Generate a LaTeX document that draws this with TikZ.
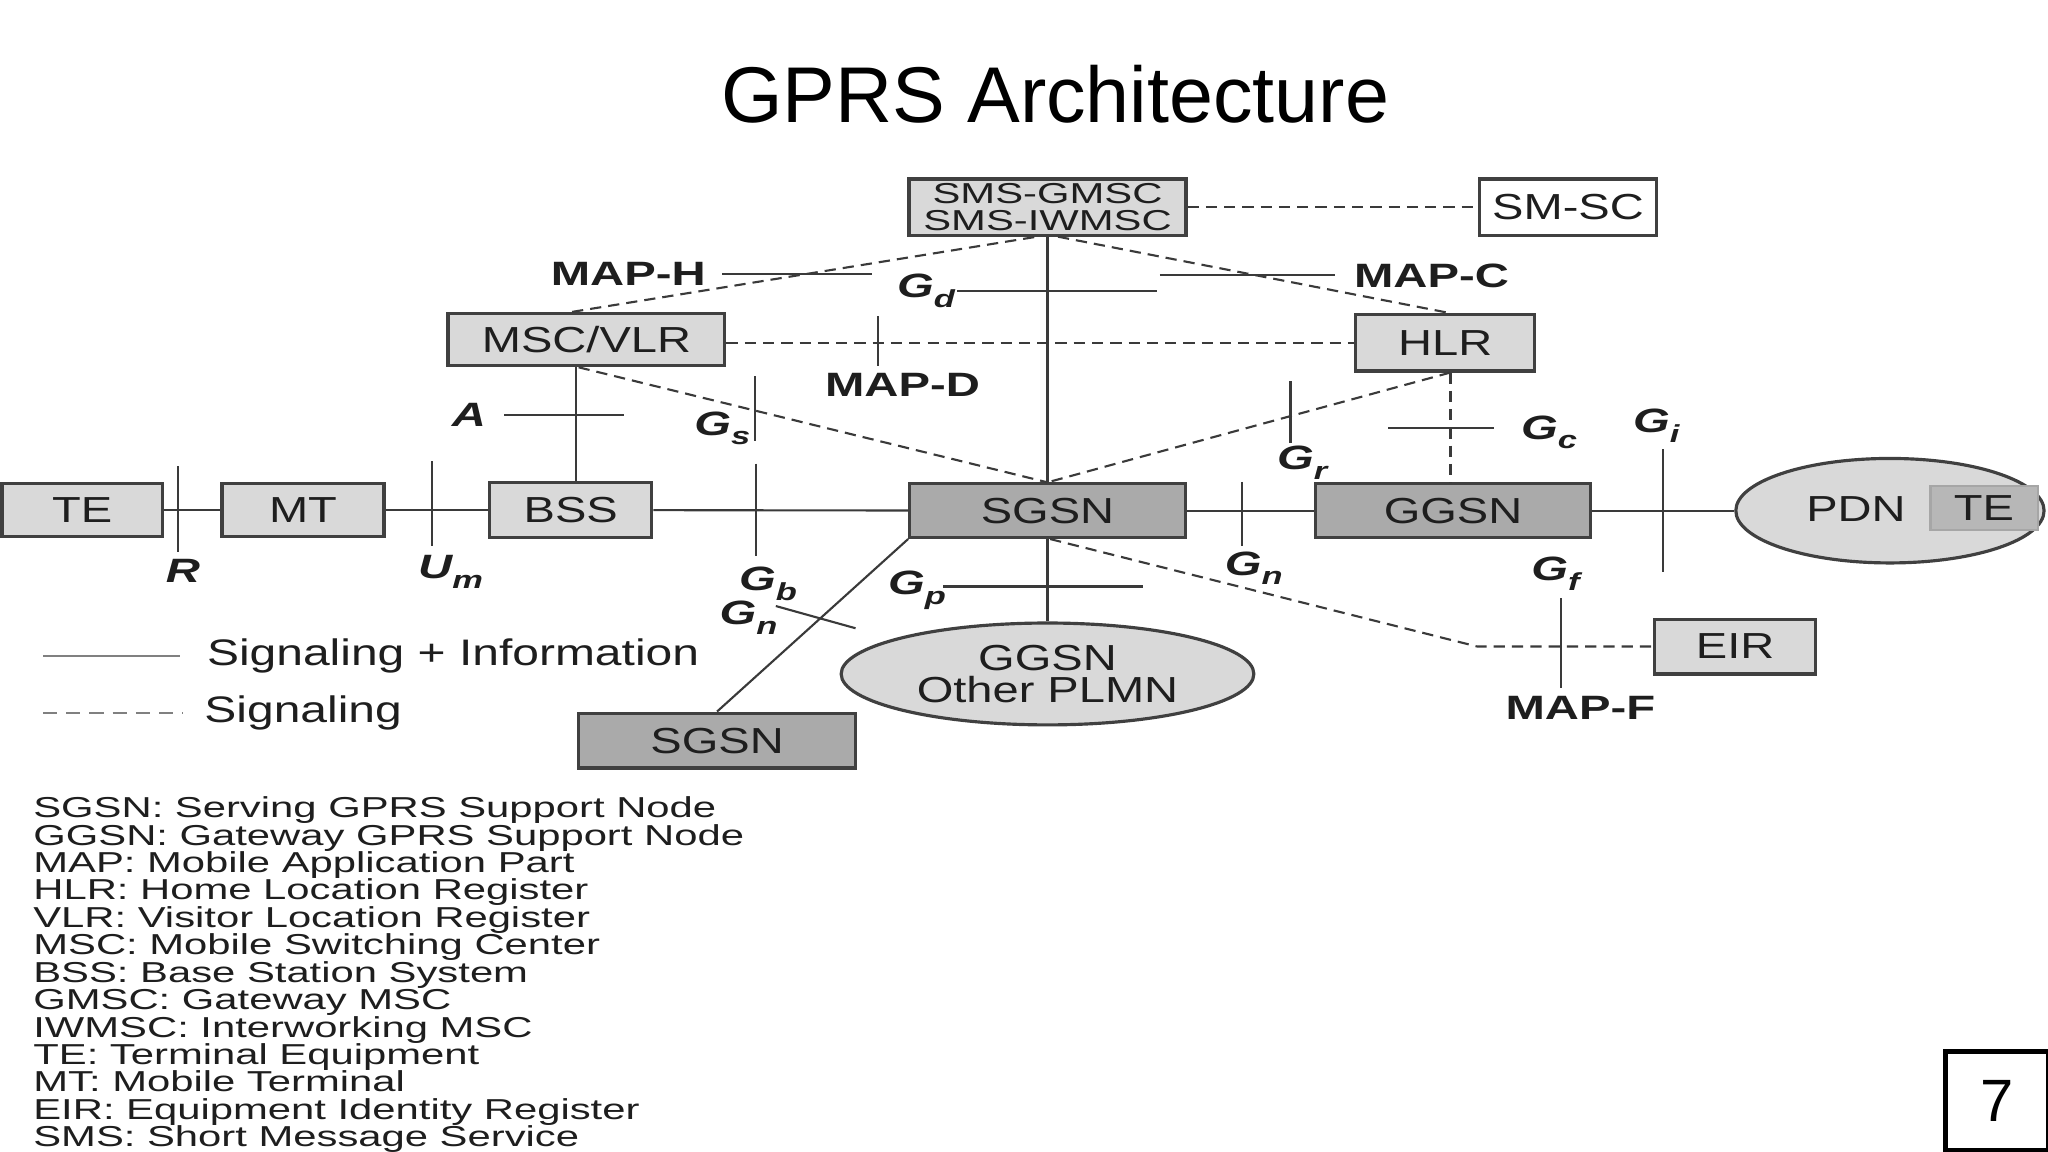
\documentclass[tikz,border=0pt]{standalone}
\usepackage{fontspec}
\setmainfont{Liberation Sans}
\newfontfamily\diagf[FakeStretch=1.3]{Liberation Sans}
\newfontfamily\widef[FakeStretch=1.45]{Liberation Sans}
\newfontfamily\labf[FakeStretch=1.4]{Liberation Sans}
\usetikzlibrary{shapes.geometric,calc}
\definecolor{lg}{HTML}{D9D9D9}
\definecolor{dg}{HTML}{AAAAAA}
\definecolor{bord}{HTML}{404040}
\definecolor{lnc}{HTML}{3A3A3A}
\definecolor{txt}{HTML}{1E1E1E}
\newcommand{\WithSub}[2]{#1\raisebox{-2.8pt}{\fontsize{7}{7}\selectfont #2}}
\tikzset{
 sz/.style 2 args={minimum width=#1*0.013061cm, minimum height=#2*0.013061cm},
 bx/.style={draw=bord, line width=0.9pt, inner sep=0pt, text=txt, font=\diagf\fontsize{10.3}{11}\selectfont},
 lbox/.style={bx, fill=lg},
 dbox/.style={bx, fill=dg},
 wbox/.style={bx, fill=white},
 ell/.style={bx, ellipse, fill=lg},
 ln/.style={draw=lnc, line width=0.6pt},
 dsh/.style={ln, dash pattern=on 3.2pt off 2pt},
 lab/.style={text=txt, font=\labf\bfseries\itshape\fontsize{9.6}{10}\selectfont, inner sep=0pt},
 mlab/.style={text=txt, font=\labf\bfseries\fontsize{9.6}{10}\selectfont, inner sep=0pt},
 keyt/.style={text=txt, font=\widef\fontsize{8.2}{9}\selectfont, inner sep=0pt, anchor=base west},
 legt/.style={text=txt, font=\diagf\fontsize{10.5}{12}\selectfont, inner sep=0pt, anchor=west},
}
\begin{document}
\begin{tikzpicture}[x=0.013061cm, y=-0.013061cm]
\fill[white] (0,0) rectangle (1568,882);
\useasboundingbox (0,0) rectangle (1568,882);

% title
\node[font=\fontsize{22.5}{26}\selectfont, text=black] (title) at (808,72) {GPRS Architecture};

% boxes
\node[lbox, sz={123}{41}] (te1) at (63,390.5) {TE};
\node[lbox, sz={124}{41}] (mt) at (232,390.5) {MT};
\node[lbox, sz={124}{42}] (bss) at (437,390.5) {BSS};
\node[dbox, sz={211}{41}] (sgsn) at (802,391) {SGSN};
\node[dbox, sz={211}{41}] (ggsn) at (1112.5,391) {GGSN};
\node[ell, sz={236}{80}] (pdn) at (1447,391) {};
\node[text=txt, font=\diagf\fontsize{10.3}{11}\selectfont, inner sep=0pt] (pdnl) at (1421,390) {PDN};
\node[draw=gray!70, line width=0.6pt, fill=dg!85, inner sep=0pt, sz={82}{34}, text=txt, font=\diagf\fontsize{10.3}{11}\selectfont] (te2) at (1519,389) {TE};
\node[lbox, sz={212}{40}] (msc) at (449,260) {MSC/VLR};
\node[lbox, sz={137}{43}] (hlr) at (1106.5,262.5) {HLR};
\node[lbox, sz={212}{43}, align=center, font=\widef\fontsize{8.2}{7.9}\selectfont] (sms) at (802,158.5) {SMS-GMSC\\SMS-IWMSC};
\node[wbox, sz={135}{43}] (smsc) at (1200.5,158.5) {SM-SC};
\node[lbox, sz={123}{42}] (eir) at (1328.5,495) {EIR};
\node[ell, sz={316}{78}, align=center, font=\diagf\fontsize{10.3}{9.3}\selectfont] (plmn) at (802,516) {GGSN\\Other PLMN};
\node[dbox, sz={212}{42}] (sgsn2) at (549,567) {SGSN};

% solid connectors
\draw[ln] (te1) -- (mt);
\draw[ln] (mt) -- (bss);
\draw[ln] (bss) -- (sgsn);
\draw[ln] (sgsn) -- (ggsn);
\draw[ln] (ggsn) -- (pdn);
\draw[ln] ($(bss.north)+(4,0)$) -- ($(msc.south)+(-8,0)$);
\draw[ln] (sms.south) -- (sgsn.north);
\draw[ln] (sgsn.south) -- (plmn.north);
\draw[ln] (sgsn.south west) -- (sgsn2.north);

% dashed connectors
\draw[dsh] (sms.east) -- (smsc.west);
\draw[dsh] (msc.east |- hlr.west) -- (hlr.west);
\draw[dsh] ($(msc.north)+(-11,0)$) -- ($(sms.south)+(-8,0)$);
\draw[dsh] ($(sms.south)+(8,0)$) -- ($(hlr.north)+(4,0)$);
\draw[dsh] ($(msc.south)+(-6,0)$) -- (sgsn.north);
\draw[dsh] ($(hlr.south)+(4,0)$) -- (sgsn.north);
\draw[dsh] ($(hlr.south)+(4,0)$) -- ($(ggsn.north)+(-2,0)$);
\coordinate (eb) at (1131,495);
\draw[dsh] ($(sgsn.south)+(2,0)$) -- (eb) -- (eir.west);

% interface ticks
\draw[ln] (136,357) -- (136,423);
\draw[ln] (331,353) -- (331,418);
\draw[ln] (386,318) -- (478,318);
\draw[ln] (553,210) -- (668,210);
\draw[ln] (733,222.5) -- (886,222.5);
\draw[ln] (888,210.5) -- (1022,210.5);
\draw[ln] (672,242) -- (672,280);
\draw[ln] (578,288) -- (578,338);
\draw[ln] (988,292) -- (988,339);
\draw[ln] (1063,328) -- (1144,328);
\draw[ln] (1273,344) -- (1273,438);
\draw[ln] (951,369) -- (951,418);
\draw[ln] (579,355) -- (579,426);
\draw[ln] (722,449) -- (875,449);
\draw[ln] (594,464) -- (655,481);
\draw[ln] (1195,458) -- (1195,527);

% interface labels
\node[lab] (lR) at (140,437) {R};
\node[lab] (lUm) at (345,438) {\WithSub{U}{m}};
\node[lab] (lA) at (359,318) {A};
\node[mlab] (lMAPH) at (481,210) {MAP-H};
\node[lab] (lGd) at (709,223) {\WithSub{G}{d}};
\node[mlab] (lMAPC) at (1096,211) {MAP-C};
\node[mlab] (lMAPD) at (691,295) {MAP-D};
\node[lab] (lGs) at (553,328) {\WithSub{G}{s}};
\node[lab] (lGr) at (997,354) {\WithSub{G}{r}};
\node[lab] (lGc) at (1186,331) {\WithSub{G}{c}};
\node[lab] (lGi) at (1268,326) {\WithSub{G}{i}};
\node[lab] (lGn) at (960,435) {\WithSub{G}{n}};
\node[lab] (lGb) at (588,447) {\WithSub{G}{b}};
\node[lab] (lGp) at (702,452) {\WithSub{G}{p}};
\node[lab] (lGn2) at (573,473) {\WithSub{G}{n}};
\node[lab] (lGf) at (1191,439) {\WithSub{G}{f}};
\node[mlab] (lMAPF) at (1210,542) {MAP-F};

% legend
\coordinate (l1a) at (33,502); \coordinate (l1b) at (138,502);
\draw[draw=gray, line width=0.6pt] (l1a) -- (l1b);
\node[legt] (leg1) at (158,502) {Signaling + Information};
\coordinate (l2a) at (33,546); \coordinate (l2b) at (140,546);
\draw[draw=gray, line width=0.6pt, dash pattern=on 4pt off 2.6pt] (l2a) -- (l2b);
\node[legt] (leg2) at (156,546) {Signaling};

% key
\foreach \t [count=\i] in {SGSN: Serving GPRS Support Node, GGSN: Gateway GPRS Support Node, MAP: Mobile Application Part, HLR: Home Location Register, VLR: Visitor Location Register, MSC: Mobile Switching Center, BSS: Base Station System, GMSC: Gateway MSC, IWMSC: Interworking MSC, TE: Terminal Equipment, MT: Mobile Terminal, EIR: Equipment Identity Register, SMS: Short Message Service}
  \node[keyt] (key\i) at (25,605+21*\i) {\t};

% page number
\node[draw=black, line width=1.4pt, inner sep=0pt, sz={79}{76}, font=\fontsize{17}{20}\selectfont, text=black] (pg) at (1529,843) {7};
\end{tikzpicture}
\end{document}
